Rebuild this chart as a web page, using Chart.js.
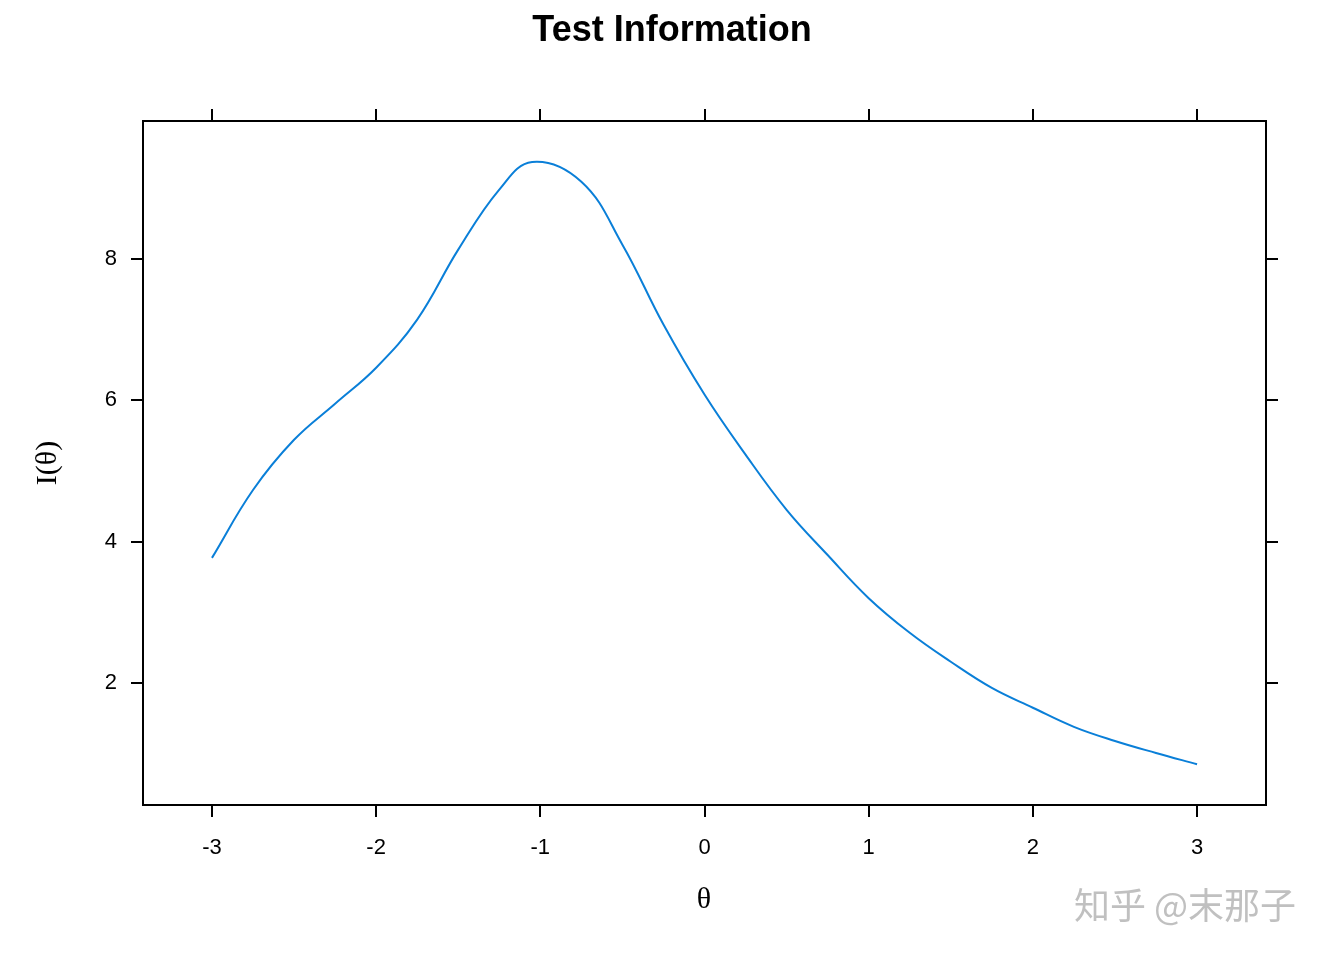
<!DOCTYPE html>
<html><head><meta charset="utf-8">
<script src="https://cdn.jsdelivr.net/npm/chart.js@4/dist/chart.umd.min.js"></script>
<style>body{margin:0;background:#fff}</style>
</head><body>
<canvas id="c" width="1344" height="960"></canvas>
<script>
const thetas = [-3,-2.75,-2.5,-2.25,-2,-1.75,-1.5,-1.25,-1.05,-0.75,-0.5,-0.25,0,0.25,0.5,0.75,1,1.25,1.5,1.75,2,2.25,2.5,2.75,3]
const info = [3.77,4.73,5.44,5.95,6.46,7.14,8.13,8.98,9.37,9.09,8.2,7.07,6.08,5.23,4.45,3.81,3.2,2.71,2.3,1.93,1.65,1.38,1.18,1.01,0.85]
const xTicks = [-3,-2,-1,0,1,2,3]
const yTicks = [2,4,6,8]

const pts = thetas.map((t, i) => ({x: t, y: info[i]}))
const font = {family: 'Liberation Sans, Arial', size: 22}

const labels = {
    id: 'labels',
    afterDraw(chart) {
        const c = chart.ctx
        const a = chart.chartArea
        c.save()
        c.strokeStyle = '#000'
        c.lineWidth = 2
        c.strokeRect(a.left, a.top, a.right - a.left, a.bottom - a.top)
        c.fillStyle = '#000'
        c.textAlign = 'center'
        c.textBaseline = 'middle'
        c.font = 'bold 36px Liberation Sans, Arial'
        c.fillText('Test Information', 672, 31)
        c.font = '30px Liberation Serif, serif'
        c.fillText('θ', 704, 900)
        c.translate(48, 463)
        c.rotate(-Math.PI / 2)
        c.fillText('I(θ)', 0, 0)
        c.restore()
        c.save()
        c.fillStyle = 'rgba(150,150,150,0.6)'
        c.font = '36px Noto Sans CJK SC'
        c.textAlign = 'center'
        c.textBaseline = 'middle'
        c.fillText('知乎 @末那子', 1185, 905)
        c.restore()
    }
}

const tickOpts = (vals) => ({
    afterBuildTicks: s => { s.ticks = vals.map(v => ({value: v})) }
})

new Chart(document.getElementById('c'), {
    type: 'line',
    data: {datasets: [{data: pts, borderColor: '#0a7fd8', borderWidth: 2, pointRadius: 0, tension: 0.4, fill: false}]},
    options: {
        responsive: false, animation: false,
        layout: {padding: 0},
        plugins: {legend: {display: false}, tooltip: {enabled: false}},
        scales: {
            x: {type: 'linear', min: -3.42, max: 3.42, position: 'bottom', ...tickOpts(xTicks),
                afterFit: s => { s.height = 155 },
                grid: {drawOnChartArea: false, tickLength: 12, color: '#000', lineWidth: 2},
                border: {display: false},
                ticks: {font, color: '#000', padding: 18}},
            x2: {type: 'linear', min: -3.42, max: 3.42, position: 'top', ...tickOpts(xTicks),
                afterFit: s => { s.height = 121 },
                grid: {drawOnChartArea: false, tickLength: 12, color: '#000', lineWidth: 2},
                border: {display: false},
                ticks: {font, color: 'rgba(0,0,0,0)'}},
            y: {type: 'linear', min: 0.274, max: 9.95, position: 'left', ...tickOpts(yTicks),
                afterFit: s => { s.width = 143 },
                grid: {drawOnChartArea: false, tickLength: 12, color: '#000', lineWidth: 2},
                border: {display: false},
                ticks: {font, color: '#000', padding: 14}},
            y2: {type: 'linear', min: 0.274, max: 9.95, position: 'right', ...tickOpts(yTicks),
                afterFit: s => { s.width = 78 },
                grid: {drawOnChartArea: false, tickLength: 12, color: '#000', lineWidth: 2},
                border: {display: false},
                ticks: {font, color: 'rgba(0,0,0,0)'}}
        }
    },
    plugins: [labels]
})
</script>
</body></html>
